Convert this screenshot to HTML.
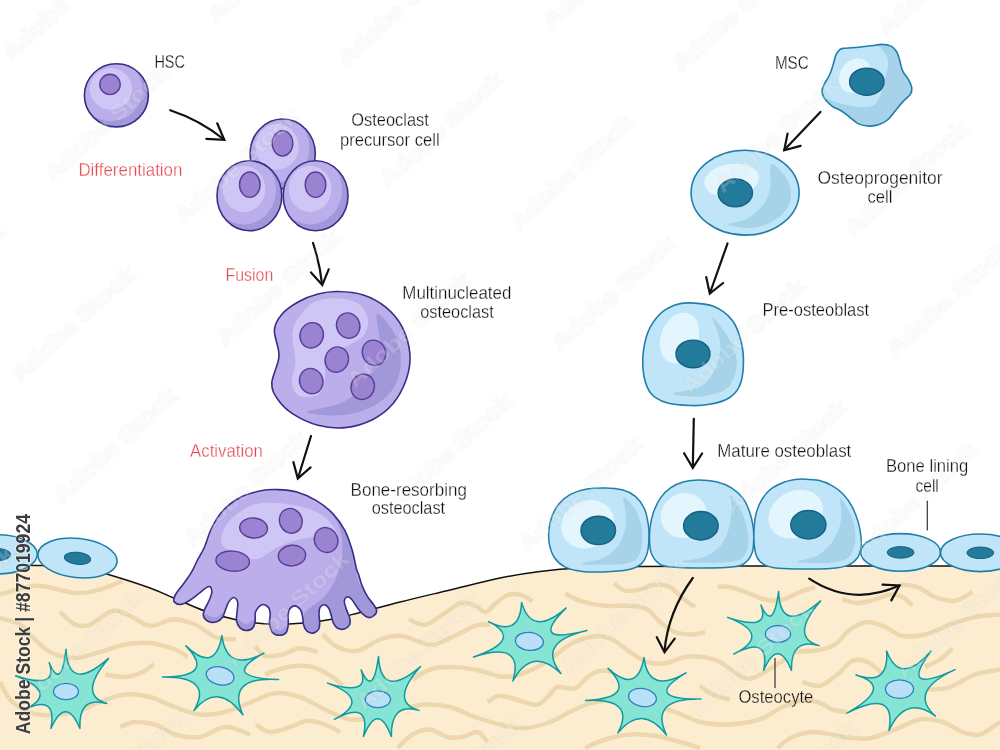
<!DOCTYPE html>
<html lang="en"><head><meta charset="utf-8"><title>Bone cell differentiation</title>
<style>html,body{margin:0;padding:0;background:#fff;overflow:hidden}svg{display:block;will-change:transform}</style></head>
<body>
<svg width="1000" height="750" viewBox="0 0 1000 750" font-family="'Liberation Sans', sans-serif">
<rect width="1000" height="750" fill="#ffffff"/>
<path d="M-5.0,565.3 C3.3,565.3 30.0,565.1 45.0,565.6 C60.0,566.1 74.2,566.9 85.0,568.5 C95.8,570.1 99.2,571.8 110.0,575.0 C120.8,578.2 139.2,584.1 150.0,588.0 C160.8,591.9 165.8,594.7 175.0,598.5 C184.2,602.3 194.7,607.4 205.0,611.0 C215.3,614.6 226.5,617.8 237.0,620.0 C247.5,622.2 256.8,623.5 268.0,624.0 C279.2,624.5 293.2,623.8 304.0,623.0 C314.8,622.2 323.7,620.8 333.0,619.0 C342.3,617.2 348.8,615.3 360.0,612.5 C371.2,609.7 385.0,605.8 400.0,602.0 C415.0,598.2 433.3,594.0 450.0,590.0 C466.7,586.0 485.0,581.1 500.0,578.0 C515.0,574.9 526.7,573.2 540.0,571.5 C553.3,569.8 563.3,568.8 580.0,568.0 C596.7,567.2 610.0,566.8 640.0,566.5 C670.0,566.2 716.7,566.1 760.0,566.0 C803.3,565.9 859.2,566.0 900.0,566.0 C940.8,566.0 987.5,566.0 1005.0,566.0 L1005,755 L-5,755 Z" fill="#fdedd0" stroke="none" stroke-width="0" stroke-linejoin="round" stroke-linecap="round" />
<g id="waves" fill="none" stroke="#ecd7af" stroke-width="4.5" stroke-linecap="butt">
<path d="M0.0,594.5 C6.2,593.0 25.0,586.0 37.5,585.8 C50.0,585.5 64.6,592.4 75.0,593.0 C85.4,593.6 92.1,591.5 100.0,589.5 C107.9,587.5 118.8,582.2 122.5,580.8"/>
<path d="M60.0,612.0 C62.5,614.1 70.0,622.4 75.0,624.5 C80.0,626.6 83.8,626.8 90.0,624.5 C96.2,622.2 105.8,612.2 112.5,610.8 C119.2,609.3 123.8,613.3 130.0,615.8 C136.2,618.3 142.9,625.2 150.0,625.8 C157.1,626.4 165.0,619.7 172.5,619.5 C180.0,619.3 187.9,621.6 195.0,624.5 C202.1,627.4 208.2,634.5 215.0,637.0 C221.8,639.5 232.5,639.1 236.0,639.5"/>
<path d="M0.0,618.0 C3.3,619.1 14.6,621.3 20.0,624.5 C25.4,627.7 27.5,632.4 32.5,637.0 C37.5,641.6 42.9,648.5 50.0,652.0 C57.1,655.5 66.7,658.0 75.0,658.0 C83.3,658.0 91.7,654.2 100.0,652.0 C108.3,649.8 116.7,646.0 125.0,644.5 C133.3,643.0 141.7,642.2 150.0,643.0 C158.3,643.8 168.8,647.2 175.0,649.5 C181.2,651.8 185.4,655.8 187.5,657.0"/>
<path d="M105.0,674.5 C108.3,674.9 118.8,677.4 125.0,677.0 C131.2,676.6 137.7,674.2 142.5,672.0 C147.3,669.8 151.9,665.3 153.8,664.0"/>
<path d="M120.0,727.0 C122.5,726.2 129.2,722.4 135.0,722.0 C140.8,721.6 148.3,722.4 155.0,724.5 C161.7,726.6 167.5,732.4 175.0,734.5 C182.5,736.6 191.7,738.2 200.0,737.0 C208.3,735.8 216.7,727.4 225.0,727.0 C233.3,726.6 245.8,733.2 250.0,734.5"/>
<path d="M408.8,619.2 C410.3,619.9 414.8,622.7 418.0,623.5 C421.2,624.3 423.5,625.8 428.0,624.0 C432.5,622.2 439.8,616.4 445.0,613.0 C450.2,609.6 455.4,605.2 459.2,603.6 C463.0,602.0 465.2,603.1 468.0,603.5 C470.8,603.9 473.1,604.6 476.0,606.0 C478.9,607.4 482.4,612.3 485.6,612.0 C488.8,611.7 491.8,606.6 495.0,604.0 C498.2,601.4 501.8,598.1 504.8,596.4 C507.8,594.7 510.2,594.2 513.0,594.0 C515.8,593.8 518.4,594.0 521.6,595.2 C524.8,596.4 530.6,600.2 532.4,601.2"/>
<path d="M322.5,634.5 C325.0,636.6 331.7,644.3 337.5,647.0 C343.3,649.7 350.4,652.0 357.5,650.8 C364.6,649.5 372.9,642.0 380.0,639.5 C387.1,637.0 393.3,635.4 400.0,635.8 C406.7,636.2 414.2,640.5 420.0,642.0 C425.8,643.5 428.8,645.8 435.0,644.5 C441.2,643.2 450.8,637.6 457.5,634.5 C464.2,631.4 469.6,627.5 475.0,625.8 C480.4,624.1 487.5,624.7 490.0,624.5"/>
<path d="M255.0,645.8 C256.7,647.5 260.4,654.3 265.0,655.8 C269.6,657.2 276.7,655.8 282.5,654.5 C288.3,653.2 294.2,648.7 300.0,648.3 C305.8,647.9 314.6,651.4 317.5,652.0"/>
<path d="M265.0,674.5 C268.8,673.2 279.6,668.2 287.5,667.0 C295.4,665.8 305.0,665.3 312.5,667.0 C320.0,668.7 327.5,673.9 332.5,677.0 C337.5,680.1 340.8,684.3 342.5,685.8"/>
<path d="M256.0,724.5 C258.3,725.8 264.3,731.6 270.0,732.0 C275.7,732.4 283.8,728.9 290.0,727.0 C296.2,725.1 301.7,721.2 307.5,720.8 C313.3,720.4 319.6,722.6 325.0,724.5 C330.4,726.4 337.5,730.8 340.0,732.0"/>
<path d="M397.5,748.0 C400.0,745.8 407.1,737.6 412.5,734.5 C417.9,731.4 424.2,729.1 430.0,729.5 C435.8,729.9 442.1,735.8 447.5,737.0 C452.9,738.2 457.5,737.8 462.5,737.0 C467.5,736.2 473.3,731.2 477.5,732.0 C481.7,732.8 485.8,740.3 487.5,742.0"/>
<path d="M613.8,583.3 C615.7,584.5 620.6,589.8 625.0,590.8 C629.4,591.8 635.0,590.5 640.0,589.5 C645.0,588.5 650.0,584.9 655.0,584.5 C660.0,584.1 665.4,584.7 670.0,587.0 C674.6,589.3 678.3,595.0 682.5,598.3 C686.7,601.6 692.9,605.5 695.0,607.0"/>
<path d="M565.0,593.3 C567.5,594.5 573.3,598.7 580.0,600.8 C586.7,602.9 596.7,605.0 605.0,605.8 C613.3,606.6 622.9,605.2 630.0,605.8 C637.1,606.4 642.5,606.8 647.5,609.5 C652.5,612.2 655.4,618.2 660.0,622.0 C664.6,625.8 669.6,629.9 675.0,632.0 C680.4,634.1 687.5,634.5 692.5,634.5 C697.5,634.5 702.9,632.4 705.0,632.0"/>
<path d="M585.0,748.0 C588.3,746.6 597.5,741.8 605.0,739.5 C612.5,737.2 621.7,735.1 630.0,734.5 C638.3,733.9 646.7,734.5 655.0,735.8 C663.3,737.0 672.5,740.0 680.0,742.0 C687.5,744.0 696.7,747.0 700.0,748.0"/>
<path d="M700.0,685.8 C702.1,687.2 707.5,692.2 712.5,694.5 C717.5,696.8 727.1,698.7 730.0,699.5"/>
<path d="M842.5,599.5 C845.0,600.1 852.1,603.0 857.5,603.0 C862.9,603.0 869.6,600.9 875.0,599.5 C880.4,598.1 885.4,594.9 890.0,594.5 C894.6,594.1 898.8,595.1 902.5,597.0 C906.2,598.9 910.8,604.3 912.5,605.8"/>
<path d="M900.0,584.5 C902.9,584.9 911.7,584.9 917.5,587.0 C923.3,589.1 928.8,594.7 935.0,597.0 C941.2,599.3 948.8,601.6 955.0,600.8 C961.2,600.0 969.6,593.5 972.5,592.0"/>
<path d="M802.5,682.0 C805.4,682.6 814.2,687.0 820.0,685.8 C825.8,684.5 832.1,678.7 837.5,674.5 C842.9,670.3 847.5,662.9 852.5,660.8 C857.5,658.7 862.5,659.9 867.5,662.0 C872.5,664.1 876.2,669.5 882.5,673.3 C888.8,677.1 896.7,682.3 905.0,685.0 C913.3,687.7 925.0,689.2 932.5,689.5 C940.0,689.8 942.9,689.5 950.0,687.0 C957.1,684.5 966.7,677.4 975.0,674.5 C983.3,671.6 995.8,670.3 1000.0,669.5"/>
<path d="M925.0,667.0 C927.5,665.8 935.4,662.6 940.0,659.5 C944.6,656.4 950.4,650.2 952.5,648.3"/>
<path d="M777.5,748.0 C780.0,746.2 786.2,739.7 792.5,737.0 C798.8,734.3 806.2,732.0 815.0,732.0 C823.8,732.0 835.8,736.0 845.0,737.0 C854.2,738.0 861.7,739.5 870.0,738.3 C878.3,737.0 886.7,732.6 895.0,729.5 C903.3,726.4 912.1,720.8 920.0,719.5 C927.9,718.2 935.4,719.9 942.5,722.0 C949.6,724.1 956.2,729.9 962.5,732.0 C968.8,734.1 973.8,736.2 980.0,734.5 C986.2,732.8 996.7,724.1 1000.0,722.0"/>
<path d="M487.5,702.0 C489.6,701.0 494.6,696.0 500.0,695.8 C505.4,695.5 513.8,699.3 520.0,700.8 C526.2,702.3 532.5,705.5 537.5,704.5 C542.5,703.5 546.7,697.4 550.0,694.5 C553.3,691.6 553.3,688.0 557.5,687.0 C561.7,686.0 570.0,690.0 575.0,688.3 C580.0,686.6 583.3,679.9 587.5,677.0 C591.7,674.1 595.8,671.6 600.0,670.8 C604.2,670.0 610.4,671.8 612.5,672.0"/>
<path d="M412.5,679.5 C415.4,677.8 423.8,671.6 430.0,669.5 C436.2,667.4 442.5,667.0 450.0,667.0 C457.5,667.0 466.7,667.9 475.0,669.5 C483.3,671.1 493.3,675.4 500.0,676.4 C506.7,677.4 509.6,676.9 515.0,675.8 C520.4,674.6 526.7,672.2 532.5,669.5 C538.3,666.8 543.8,663.7 550.0,659.5 C556.2,655.3 563.3,648.2 570.0,644.5 C576.7,640.8 583.3,638.0 590.0,637.0 C596.7,636.0 603.3,635.8 610.0,638.3 C616.7,640.8 623.8,648.0 630.0,652.0 C636.2,656.0 641.7,660.1 647.5,662.0 C653.3,663.9 658.8,664.1 665.0,663.3 C671.2,662.5 678.8,658.0 685.0,657.0 C691.2,656.0 696.7,656.2 702.5,657.0 C708.3,657.8 714.2,659.1 720.0,662.0 C725.8,664.9 732.5,671.7 737.5,674.5 C742.5,677.3 745.4,679.2 750.0,678.8 C754.6,678.3 759.6,675.0 765.0,672.0 C770.4,669.0 777.5,664.1 782.5,660.8 C787.5,657.5 789.6,653.7 795.0,652.0 C800.4,650.3 808.3,652.0 815.0,650.8 C821.7,649.5 829.2,648.0 835.0,644.5 C840.8,641.0 844.6,633.2 850.0,629.5 C855.4,625.8 861.7,622.4 867.5,622.0 C873.3,621.6 879.2,624.7 885.0,627.0 C890.8,629.3 895.8,634.5 902.5,635.8 C909.2,637.0 917.1,636.4 925.0,634.5 C932.9,632.6 941.7,627.4 950.0,624.5 C958.3,621.6 966.7,618.7 975.0,617.0 C983.3,615.3 995.8,614.9 1000.0,614.5"/>
<path d="M0.0,682.0 C2.1,685.3 6.2,696.6 12.5,702.0 C18.8,707.4 27.1,712.8 37.5,714.5 C47.9,716.2 64.6,714.1 75.0,712.0 C85.4,709.9 91.7,704.9 100.0,702.0 C108.3,699.1 116.7,695.3 125.0,694.5 C133.3,693.7 141.7,694.9 150.0,697.0 C158.3,699.1 166.7,704.1 175.0,707.0 C183.3,709.9 191.7,713.7 200.0,714.5 C208.3,715.3 216.7,714.0 225.0,712.0 C233.3,710.0 241.7,705.8 250.0,702.6 C258.3,699.5 266.7,694.2 275.0,693.3 C283.3,692.4 291.7,694.3 300.0,697.0 C308.3,699.7 316.7,705.8 325.0,709.5 C333.3,713.2 341.7,718.2 350.0,719.5 C358.3,720.8 366.7,718.7 375.0,717.0 C383.3,715.3 391.7,711.6 400.0,709.5 C408.3,707.4 416.7,704.9 425.0,704.5 C433.3,704.1 441.7,704.9 450.0,707.0 C458.3,709.1 466.7,714.1 475.0,717.0 C483.3,719.9 491.7,722.6 500.0,724.5 C508.3,726.4 516.7,728.7 525.0,728.3 C533.3,727.9 541.7,725.1 550.0,722.0 C558.3,718.9 567.5,712.8 575.0,709.5 C582.5,706.2 585.0,703.6 595.0,702.0 C605.0,700.4 621.7,698.3 635.0,700.0 C648.3,701.7 664.2,708.3 675.0,712.0 C685.8,715.7 691.7,719.9 700.0,722.0 C708.3,724.1 716.7,724.5 725.0,724.5 C733.3,724.5 743.3,723.2 750.0,722.0 C756.7,720.8 759.6,719.5 765.0,717.0 C770.4,714.5 776.7,709.7 782.5,707.0 C788.3,704.3 794.2,701.6 800.0,700.8 C805.8,700.0 812.1,700.5 817.5,702.0 C822.9,703.5 827.5,707.8 832.5,709.5 C837.5,711.2 845.0,711.6 847.5,712.0"/>
<path d="M717.5,587.0 C719.6,587.0 724.6,585.9 730.0,587.0 C735.4,588.1 744.2,591.7 750.0,593.8 C755.8,595.8 759.6,598.5 765.0,599.5 C770.4,600.5 776.7,600.8 782.5,599.5 C788.3,598.2 794.6,594.1 800.0,592.0 C805.4,589.9 812.5,587.8 815.0,587.0"/>
</g>
<path d="M-5.0,565.3 C3.3,565.3 30.0,565.1 45.0,565.6 C60.0,566.1 74.2,566.9 85.0,568.5 C95.8,570.1 99.2,571.8 110.0,575.0 C120.8,578.2 139.2,584.1 150.0,588.0 C160.8,591.9 165.8,594.7 175.0,598.5 C184.2,602.3 194.7,607.4 205.0,611.0 C215.3,614.6 226.5,617.8 237.0,620.0 C247.5,622.2 256.8,623.5 268.0,624.0 C279.2,624.5 293.2,623.8 304.0,623.0 C314.8,622.2 323.7,620.8 333.0,619.0 C342.3,617.2 348.8,615.3 360.0,612.5 C371.2,609.7 385.0,605.8 400.0,602.0 C415.0,598.2 433.3,594.0 450.0,590.0 C466.7,586.0 485.0,581.1 500.0,578.0 C515.0,574.9 526.7,573.2 540.0,571.5 C553.3,569.8 563.3,568.8 580.0,568.0 C596.7,567.2 610.0,566.8 640.0,566.5 C670.0,566.2 716.7,566.1 760.0,566.0 C803.3,565.9 859.2,566.0 900.0,566.0 C940.8,566.0 987.5,566.0 1005.0,566.0" fill="none" stroke="#111" stroke-width="1.5" stroke-linejoin="round" stroke-linecap="round" />
<path d="M66.0,649.3 Q68.2,693.9 108.5,658.4 Q77.4,695.1 106.8,703.5 Q78.5,695.3 79.9,728.5 Q65.9,695.0 50.9,728.5 Q57.4,692.9 24.0,710.0 Q59.9,693.0 15.6,675.7 Q58.8,690.0 49.2,662.7 Q61.3,691.1 66.0,649.3Z" fill="#86e4d4" stroke="#0f9ba0" stroke-width="1.5" stroke-linejoin="round"/>
<ellipse cx="66" cy="691.5" rx="12.5" ry="8.2" fill="#b9e0f6" stroke="#2c7fc0" stroke-width="1.3" />
<path d="M221.9,635.4 Q226.6,673.1 263.9,653.1 Q218.7,677.7 278.6,679.5 Q225.6,676.1 242.9,714.9 Q218.3,681.2 194.0,710.4 Q213.8,676.6 162.5,677.1 Q216.4,676.9 185.9,645.9 Q215.2,674.2 221.9,635.4Z" fill="#86e4d4" stroke="#0f9ba0" stroke-width="1.5" stroke-linejoin="round"/>
<ellipse cx="220.1" cy="675.9" rx="14" ry="9" transform="rotate(12 220.1 675.9)" fill="#b9e0f6" stroke="#2c7fc0" stroke-width="1.3" />
<path d="M378.5,656.4 Q380.7,700.4 420.5,666.6 Q389.2,701.9 419.0,710.4 Q390.5,702.2 391.4,736.5 Q377.9,700.8 363.5,736.5 Q371.1,699.0 334.4,719.4 Q372.6,699.4 327.5,683.1 Q370.7,696.9 361.1,669.9 Q373.2,697.8 378.5,656.4Z" fill="#86e4d4" stroke="#0f9ba0" stroke-width="1.5" stroke-linejoin="round"/>
<ellipse cx="377.9" cy="699.3" rx="12.6" ry="8.4" fill="#b9e0f6" stroke="#2c7fc0" stroke-width="1.3" />
<path d="M521.6,602.4 Q531.8,637.9 566.0,608.1 Q527.5,645.9 587.0,630.6 Q535.8,642.3 560.9,673.5 Q532.0,645.7 512.9,681.0 Q524.8,640.1 473.6,657.0 Q524.6,639.4 488.6,621.6 Q519.9,637.9 521.6,602.4Z" fill="#86e4d4" stroke="#0f9ba0" stroke-width="1.5" stroke-linejoin="round"/>
<ellipse cx="529.4" cy="641.4" rx="14" ry="9" transform="rotate(5 529.4 641.4)" fill="#b9e0f6" stroke="#2c7fc0" stroke-width="1.3" />
<path d="M644.0,657.6 Q648.4,694.7 686.0,672.9 Q641.1,699.8 701.0,699.0 Q648.6,698.0 666.5,735.0 Q641.7,702.9 617.9,732.9 Q636.3,697.9 585.5,700.5 Q638.3,698.0 608.0,668.4 Q637.2,695.1 644.0,657.6Z" fill="#86e4d4" stroke="#0f9ba0" stroke-width="1.5" stroke-linejoin="round"/>
<ellipse cx="642.5" cy="697.5" rx="14" ry="9" transform="rotate(10 642.5 697.5)" fill="#b9e0f6" stroke="#2c7fc0" stroke-width="1.3" />
<path d="M778.6,591.6 Q780.4,635.7 820.6,600.9 Q789.2,637.0 819.1,645.6 Q790.4,637.5 791.5,670.5 Q777.9,636.9 763.6,670.5 Q770.9,634.4 733.9,654.0 Q772.7,634.4 727.6,617.4 Q770.9,632.1 760.9,605.1 Q773.1,632.6 778.6,591.6Z" fill="#86e4d4" stroke="#0f9ba0" stroke-width="1.5" stroke-linejoin="round"/>
<ellipse cx="778" cy="633.9" rx="12.6" ry="8.4" fill="#b9e0f6" stroke="#2c7fc0" stroke-width="1.3" />
<path d="M886.6,651.0 Q900.1,686.7 931.0,651.0 Q897.9,695.8 955.0,669.6 Q907.5,691.4 935.5,716.1 Q905.3,694.2 889.0,730.5 Q896.6,687.2 847.0,713.1 Q895.0,686.3 856.0,675.0 Q889.2,686.6 886.6,651.0Z" fill="#86e4d4" stroke="#0f9ba0" stroke-width="1.5" stroke-linejoin="round"/>
<ellipse cx="899.5" cy="689.1" rx="14" ry="9.3" fill="#b9e0f6" stroke="#2c7fc0" stroke-width="1.3" />
<clipPath id="c1"><ellipse cx="116.4" cy="95.3" rx="32" ry="31.6"/></clipPath>
<ellipse cx="116.4" cy="95.3" rx="32" ry="31.6" fill="#bbaeea"/>
<g clip-path="url(#c1)">
<ellipse cx="116.4" cy="95.3" rx="32" ry="31.6" fill="#a198da"/>
<ellipse cx="110.96" cy="89.928" rx="31.68" ry="31.284" fill="#bbaeea" stroke="none" stroke-width="0" />
<ellipse cx="110.96" cy="88.98" rx="21.12" ry="20.856" fill="#cec7f5" stroke="none" stroke-width="0" />
</g>
<ellipse cx="116.4" cy="95.3" rx="32" ry="31.6" fill="none" stroke="#372f85" stroke-width="1.6"/>
<ellipse cx="110" cy="84.4" rx="10.2" ry="10.2" fill="#9a83d1" stroke="#5b3d97" stroke-width="1.4" />
<clipPath id="c2"><ellipse cx="282.7" cy="153.8" rx="32.6" ry="34.8"/></clipPath>
<ellipse cx="282.7" cy="153.8" rx="32.6" ry="34.8" fill="#bbaeea"/>
<g clip-path="url(#c2)">
<ellipse cx="282.7" cy="153.8" rx="32.6" ry="34.8" fill="#a198da"/>
<ellipse cx="277.158" cy="147.884" rx="32.274" ry="34.452" fill="#bbaeea" stroke="none" stroke-width="0" />
<ellipse cx="277.158" cy="146.84" rx="21.516" ry="22.968" fill="#cec7f5" stroke="none" stroke-width="0" />
</g>
<ellipse cx="282.7" cy="153.8" rx="32.6" ry="34.8" fill="none" stroke="#372f85" stroke-width="1.6"/>
<ellipse cx="282.5" cy="143.3" rx="10.3" ry="12.7" fill="#9a83d1" stroke="#5b3d97" stroke-width="1.4" />
<clipPath id="c3"><ellipse cx="249.4" cy="195.8" rx="32.4" ry="35"/></clipPath>
<ellipse cx="249.4" cy="195.8" rx="32.4" ry="35" fill="#bbaeea"/>
<g clip-path="url(#c3)">
<ellipse cx="249.4" cy="195.8" rx="32.4" ry="35" fill="#a198da"/>
<ellipse cx="243.892" cy="189.85" rx="32.076" ry="34.65" fill="#bbaeea" stroke="none" stroke-width="0" />
<ellipse cx="243.892" cy="188.8" rx="21.384" ry="23.1" fill="#cec7f5" stroke="none" stroke-width="0" />
</g>
<ellipse cx="249.4" cy="195.8" rx="32.4" ry="35" fill="none" stroke="#372f85" stroke-width="1.6"/>
<ellipse cx="249.8" cy="184.7" rx="10.3" ry="12.7" fill="#9a83d1" stroke="#5b3d97" stroke-width="1.4" />
<clipPath id="c4"><ellipse cx="315.6" cy="195.8" rx="32.4" ry="35"/></clipPath>
<ellipse cx="315.6" cy="195.8" rx="32.4" ry="35" fill="#bbaeea"/>
<g clip-path="url(#c4)">
<ellipse cx="315.6" cy="195.8" rx="32.4" ry="35" fill="#a198da"/>
<ellipse cx="310.092" cy="189.85" rx="32.076" ry="34.65" fill="#bbaeea" stroke="none" stroke-width="0" />
<ellipse cx="310.092" cy="188.8" rx="21.384" ry="23.1" fill="#cec7f5" stroke="none" stroke-width="0" />
</g>
<ellipse cx="315.6" cy="195.8" rx="32.4" ry="35" fill="none" stroke="#372f85" stroke-width="1.6"/>
<ellipse cx="315.5" cy="184.7" rx="10.3" ry="12.7" fill="#9a83d1" stroke="#5b3d97" stroke-width="1.4" />
<clipPath id="c5"><path d="M338.0,291.5 C345.6,291.7 355.4,292.4 363.4,295.0 C371.4,297.6 379.6,302.1 386.0,307.4 C392.4,312.7 398.0,318.9 402.0,326.7 C406.0,334.4 409.1,345.2 409.9,353.9 C410.6,362.6 409.3,370.5 406.5,378.8 C403.7,387.1 398.6,397.0 392.9,403.8 C387.2,410.6 380.3,415.7 372.4,419.7 C364.4,423.7 354.3,426.7 345.2,427.6 C336.1,428.5 326.7,427.6 318.0,425.3 C309.3,423.0 299.6,418.3 292.8,413.9 C286.1,409.5 281.0,404.1 277.5,399.0 C274.0,393.9 271.6,390.2 271.8,383.0 C272.1,375.8 278.6,364.8 279.0,356.0 C279.4,347.2 273.9,336.9 274.4,330.0 C274.8,323.1 277.7,319.1 281.7,314.4 C285.7,309.7 292.4,305.1 298.5,301.7 C304.6,298.3 311.4,295.7 318.0,294.0 C324.6,292.3 330.4,291.3 338.0,291.5Z" fill="none" stroke="none" stroke-width="0" stroke-linejoin="round" stroke-linecap="round" /></clipPath>
<path d="M338.0,291.5 C345.6,291.7 355.4,292.4 363.4,295.0 C371.4,297.6 379.6,302.1 386.0,307.4 C392.4,312.7 398.0,318.9 402.0,326.7 C406.0,334.4 409.1,345.2 409.9,353.9 C410.6,362.6 409.3,370.5 406.5,378.8 C403.7,387.1 398.6,397.0 392.9,403.8 C387.2,410.6 380.3,415.7 372.4,419.7 C364.4,423.7 354.3,426.7 345.2,427.6 C336.1,428.5 326.7,427.6 318.0,425.3 C309.3,423.0 299.6,418.3 292.8,413.9 C286.1,409.5 281.0,404.1 277.5,399.0 C274.0,393.9 271.6,390.2 271.8,383.0 C272.1,375.8 278.6,364.8 279.0,356.0 C279.4,347.2 273.9,336.9 274.4,330.0 C274.8,323.1 277.7,319.1 281.7,314.4 C285.7,309.7 292.4,305.1 298.5,301.7 C304.6,298.3 311.4,295.7 318.0,294.0 C324.6,292.3 330.4,291.3 338.0,291.5Z" fill="#bbaeea" stroke="none" stroke-width="0" stroke-linejoin="round" stroke-linecap="round" />
<g clip-path="url(#c5)">
<path d="M377.0,314.2 C379.3,312.0 389.4,324.6 393.3,331.2 C397.2,337.8 399.7,346.3 400.6,353.9 C401.4,361.5 400.8,369.6 398.5,376.6 C396.3,383.6 392.9,390.3 387.2,395.9 C381.5,401.4 373.0,406.8 364.5,410.1 C356.0,413.4 345.8,415.3 336.2,415.6 C326.5,415.8 306.3,413.6 306.7,411.7 C307.1,409.8 329.9,407.6 338.4,404.2 C346.9,400.8 352.2,396.9 357.7,391.3 C363.2,385.8 367.6,378.7 371.3,370.9 C375.0,363.2 378.8,354.3 379.7,344.8 C380.7,335.4 374.7,316.5 377.0,314.2Z" fill="#a198da" stroke="none" stroke-width="0" stroke-linejoin="round" stroke-linecap="round" />
<path d="M293.1,329.0 C295.7,319.5 304.0,309.1 311.2,304.0 C318.4,298.9 328.2,298.3 336.2,298.3 C344.1,298.3 353.6,300.4 358.8,304.0 C364.1,307.6 367.2,314.6 367.9,319.9 C368.7,325.2 366.8,331.4 363.4,335.8 C360.0,340.1 353.6,342.2 347.5,346.0 C341.5,349.7 330.9,353.0 327.1,358.4 C323.3,363.9 326.3,372.8 324.8,378.8 C323.3,384.9 322.2,391.9 318.0,394.7 C313.9,397.6 304.2,397.7 299.9,395.9 C295.5,394.0 292.7,389.2 292.0,383.4 C291.2,377.5 295.2,369.8 295.4,360.7 C295.5,351.6 290.4,338.4 293.1,329.0Z" fill="#cec7f5" stroke="none" stroke-width="0" stroke-linejoin="round" stroke-linecap="round" />
</g>
<path d="M338.0,291.5 C345.6,291.7 355.4,292.4 363.4,295.0 C371.4,297.6 379.6,302.1 386.0,307.4 C392.4,312.7 398.0,318.9 402.0,326.7 C406.0,334.4 409.1,345.2 409.9,353.9 C410.6,362.6 409.3,370.5 406.5,378.8 C403.7,387.1 398.6,397.0 392.9,403.8 C387.2,410.6 380.3,415.7 372.4,419.7 C364.4,423.7 354.3,426.7 345.2,427.6 C336.1,428.5 326.7,427.6 318.0,425.3 C309.3,423.0 299.6,418.3 292.8,413.9 C286.1,409.5 281.0,404.1 277.5,399.0 C274.0,393.9 271.6,390.2 271.8,383.0 C272.1,375.8 278.6,364.8 279.0,356.0 C279.4,347.2 273.9,336.9 274.4,330.0 C274.8,323.1 277.7,319.1 281.7,314.4 C285.7,309.7 292.4,305.1 298.5,301.7 C304.6,298.3 311.4,295.7 318.0,294.0 C324.6,292.3 330.4,291.3 338.0,291.5Z" fill="none" stroke="#372f85" stroke-width="1.6" stroke-linejoin="round" stroke-linecap="round" />
<ellipse cx="311.7" cy="335.3" rx="11.6" ry="12.8" transform="rotate(20 311.7 335.3)" fill="#9a83d1" stroke="#5b3d97" stroke-width="1.4" />
<ellipse cx="348.2" cy="325.6" rx="11.6" ry="12.8" transform="rotate(-20 348.2 325.6)" fill="#9a83d1" stroke="#5b3d97" stroke-width="1.4" />
<ellipse cx="336.8" cy="359.6" rx="11.6" ry="12.8" transform="rotate(20 336.8 359.6)" fill="#9a83d1" stroke="#5b3d97" stroke-width="1.4" />
<ellipse cx="374" cy="352.8" rx="11.6" ry="12.8" transform="rotate(-25 374 352.8)" fill="#9a83d1" stroke="#5b3d97" stroke-width="1.4" />
<ellipse cx="311.2" cy="381.1" rx="11.6" ry="12.8" transform="rotate(-20 311.2 381.1)" fill="#9a83d1" stroke="#5b3d97" stroke-width="1.4" />
<ellipse cx="362.7" cy="386.8" rx="11.6" ry="12.8" transform="rotate(20 362.7 386.8)" fill="#9a83d1" stroke="#5b3d97" stroke-width="1.4" />
<clipPath id="c6"><path d="M197.5,560.0 C199.7,555.8 202.1,552.5 204.4,547.2 C206.8,541.9 208.6,534.0 211.6,528.0 C214.6,522.0 217.8,516.2 222.4,511.2 C227.0,506.2 232.8,501.4 239.2,498.0 C245.6,494.6 254.4,492.2 260.8,490.8 C267.2,489.4 271.6,489.4 277.6,489.6 C283.6,489.8 290.4,490.2 296.8,492.0 C303.2,493.8 310.0,496.8 316.0,500.4 C322.0,504.0 328.0,508.6 332.8,513.6 C337.6,518.6 341.6,524.4 344.8,530.4 C348.0,536.4 350.0,543.1 352.0,549.6 C354.0,556.1 355.5,565.3 356.6,569.4 C357.7,573.5 357.7,571.7 358.6,574.4 C359.5,577.1 360.5,581.7 361.9,585.4 C363.4,589.1 365.4,593.1 367.4,596.4 C369.4,599.7 372.5,602.7 374.0,605.2 C375.6,607.7 376.7,609.4 376.7,611.1 C376.7,612.9 375.4,614.5 374.0,615.5 C372.7,616.6 370.5,617.9 368.5,617.5 C366.5,617.1 363.9,615.0 361.9,613.1 C359.9,611.3 358.1,608.5 356.4,606.3 C354.8,604.1 353.5,601.3 352.0,599.7 C350.6,598.1 348.9,596.7 347.6,596.8 C346.3,597.0 344.5,598.7 344.3,600.8 C344.1,602.9 345.6,606.7 346.5,609.6 C347.4,612.5 349.3,615.8 349.8,618.4 C350.3,621.0 350.3,623.2 349.4,625.0 C348.5,626.8 346.3,628.4 344.3,629.0 C342.4,629.5 339.6,629.3 337.7,628.3 C335.9,627.3 334.4,625.0 333.3,622.8 C332.2,620.6 331.9,617.5 331.1,615.1 C330.4,612.7 330.0,610.2 328.9,608.5 C327.8,606.8 326.0,604.9 324.5,604.8 C323.0,604.6 321.0,605.9 320.1,607.4 C319.2,608.9 319.1,611.4 319.0,614.0 C318.9,616.6 319.7,620.2 319.7,622.8 C319.6,625.4 319.7,627.7 318.6,629.4 C317.4,631.1 314.8,632.9 312.9,633.1 C310.9,633.4 308.5,632.5 306.9,631.2 C305.4,629.8 304.3,627.5 303.6,625.0 C302.9,622.5 303.1,618.8 302.5,616.2 C302.0,613.6 301.6,611.3 300.3,609.6 C299.0,607.9 296.6,605.9 294.8,605.9 C293.0,605.9 290.4,607.9 289.3,609.6 C288.2,611.3 288.4,613.6 288.2,616.2 C288.0,618.8 288.6,622.3 288.2,625.0 C287.8,627.8 287.5,631.0 286.0,632.7 C284.5,634.4 281.6,635.3 279.4,635.3 C277.2,635.3 274.5,634.6 272.8,632.7 C271.2,630.8 270.0,627.0 269.5,623.9 C269.1,620.8 270.4,616.8 270.2,614.0 C270.0,611.3 269.8,608.9 268.4,607.4 C267.0,605.9 263.9,604.0 261.8,604.8 C259.7,605.5 256.7,609.2 255.6,611.8 C254.5,614.4 255.6,618.0 255.2,620.6 C254.8,623.2 254.5,626.0 253.0,627.6 C251.5,629.3 248.6,630.5 246.4,630.5 C244.2,630.5 241.5,629.3 239.8,627.6 C238.2,626.0 236.9,623.4 236.5,620.6 C236.1,617.8 237.0,613.8 237.2,610.7 C237.4,607.6 238.2,604.1 237.6,601.9 C237.0,599.7 235.1,597.5 233.6,597.5 C232.2,597.5 230.2,599.9 228.8,601.9 C227.4,603.9 226.5,607.0 225.5,609.6 C224.5,612.2 224.1,615.3 222.6,617.3 C221.2,619.3 219.0,621.0 216.7,621.7 C214.4,622.4 211.2,622.6 209.0,621.7 C206.8,620.8 204.2,618.2 203.5,616.2 C202.8,614.2 203.7,612.2 204.6,609.6 C205.5,607.0 207.8,603.7 209.0,600.8 C210.2,597.9 211.7,594.3 211.9,592.0 C212.0,589.7 211.0,587.5 210.1,586.7 C209.2,586.0 208.4,586.4 206.4,587.6 C204.3,588.8 200.9,592.0 198.0,594.2 C195.1,596.4 192.1,599.1 189.2,600.8 C186.3,602.5 182.9,604.4 180.4,604.5 C177.9,604.7 175.3,603.1 174.2,601.9 C173.2,600.7 173.8,599.2 174.2,597.5 C174.7,595.9 175.5,594.4 177.1,592.0 C178.7,589.6 181.5,586.5 183.9,583.2 C186.3,579.9 189.1,576.3 191.4,572.4 C193.7,568.6 195.3,564.2 197.5,560.0Z" fill="none" stroke="none" stroke-width="0" stroke-linejoin="round" stroke-linecap="round" /></clipPath>
<path d="M197.5,560.0 C199.7,555.8 202.1,552.5 204.4,547.2 C206.8,541.9 208.6,534.0 211.6,528.0 C214.6,522.0 217.8,516.2 222.4,511.2 C227.0,506.2 232.8,501.4 239.2,498.0 C245.6,494.6 254.4,492.2 260.8,490.8 C267.2,489.4 271.6,489.4 277.6,489.6 C283.6,489.8 290.4,490.2 296.8,492.0 C303.2,493.8 310.0,496.8 316.0,500.4 C322.0,504.0 328.0,508.6 332.8,513.6 C337.6,518.6 341.6,524.4 344.8,530.4 C348.0,536.4 350.0,543.1 352.0,549.6 C354.0,556.1 355.5,565.3 356.6,569.4 C357.7,573.5 357.7,571.7 358.6,574.4 C359.5,577.1 360.5,581.7 361.9,585.4 C363.4,589.1 365.4,593.1 367.4,596.4 C369.4,599.7 372.5,602.7 374.0,605.2 C375.6,607.7 376.7,609.4 376.7,611.1 C376.7,612.9 375.4,614.5 374.0,615.5 C372.7,616.6 370.5,617.9 368.5,617.5 C366.5,617.1 363.9,615.0 361.9,613.1 C359.9,611.3 358.1,608.5 356.4,606.3 C354.8,604.1 353.5,601.3 352.0,599.7 C350.6,598.1 348.9,596.7 347.6,596.8 C346.3,597.0 344.5,598.7 344.3,600.8 C344.1,602.9 345.6,606.7 346.5,609.6 C347.4,612.5 349.3,615.8 349.8,618.4 C350.3,621.0 350.3,623.2 349.4,625.0 C348.5,626.8 346.3,628.4 344.3,629.0 C342.4,629.5 339.6,629.3 337.7,628.3 C335.9,627.3 334.4,625.0 333.3,622.8 C332.2,620.6 331.9,617.5 331.1,615.1 C330.4,612.7 330.0,610.2 328.9,608.5 C327.8,606.8 326.0,604.9 324.5,604.8 C323.0,604.6 321.0,605.9 320.1,607.4 C319.2,608.9 319.1,611.4 319.0,614.0 C318.9,616.6 319.7,620.2 319.7,622.8 C319.6,625.4 319.7,627.7 318.6,629.4 C317.4,631.1 314.8,632.9 312.9,633.1 C310.9,633.4 308.5,632.5 306.9,631.2 C305.4,629.8 304.3,627.5 303.6,625.0 C302.9,622.5 303.1,618.8 302.5,616.2 C302.0,613.6 301.6,611.3 300.3,609.6 C299.0,607.9 296.6,605.9 294.8,605.9 C293.0,605.9 290.4,607.9 289.3,609.6 C288.2,611.3 288.4,613.6 288.2,616.2 C288.0,618.8 288.6,622.3 288.2,625.0 C287.8,627.8 287.5,631.0 286.0,632.7 C284.5,634.4 281.6,635.3 279.4,635.3 C277.2,635.3 274.5,634.6 272.8,632.7 C271.2,630.8 270.0,627.0 269.5,623.9 C269.1,620.8 270.4,616.8 270.2,614.0 C270.0,611.3 269.8,608.9 268.4,607.4 C267.0,605.9 263.9,604.0 261.8,604.8 C259.7,605.5 256.7,609.2 255.6,611.8 C254.5,614.4 255.6,618.0 255.2,620.6 C254.8,623.2 254.5,626.0 253.0,627.6 C251.5,629.3 248.6,630.5 246.4,630.5 C244.2,630.5 241.5,629.3 239.8,627.6 C238.2,626.0 236.9,623.4 236.5,620.6 C236.1,617.8 237.0,613.8 237.2,610.7 C237.4,607.6 238.2,604.1 237.6,601.9 C237.0,599.7 235.1,597.5 233.6,597.5 C232.2,597.5 230.2,599.9 228.8,601.9 C227.4,603.9 226.5,607.0 225.5,609.6 C224.5,612.2 224.1,615.3 222.6,617.3 C221.2,619.3 219.0,621.0 216.7,621.7 C214.4,622.4 211.2,622.6 209.0,621.7 C206.8,620.8 204.2,618.2 203.5,616.2 C202.8,614.2 203.7,612.2 204.6,609.6 C205.5,607.0 207.8,603.7 209.0,600.8 C210.2,597.9 211.7,594.3 211.9,592.0 C212.0,589.7 211.0,587.5 210.1,586.7 C209.2,586.0 208.4,586.4 206.4,587.6 C204.3,588.8 200.9,592.0 198.0,594.2 C195.1,596.4 192.1,599.1 189.2,600.8 C186.3,602.5 182.9,604.4 180.4,604.5 C177.9,604.7 175.3,603.1 174.2,601.9 C173.2,600.7 173.8,599.2 174.2,597.5 C174.7,595.9 175.5,594.4 177.1,592.0 C178.7,589.6 181.5,586.5 183.9,583.2 C186.3,579.9 189.1,576.3 191.4,572.4 C193.7,568.6 195.3,564.2 197.5,560.0Z" fill="#bbaeea" stroke="none" stroke-width="0" stroke-linejoin="round" stroke-linecap="round" />
<g clip-path="url(#c6)">
<path d="M328.0,508.8 C329.6,510.8 342.8,526.8 347.2,535.2 C351.6,543.6 352.4,551.2 354.4,559.2 C356.4,567.2 355.6,575.6 359.2,583.2 C362.8,590.8 373.2,598.0 376.0,604.8 C378.8,611.6 384.0,618.4 376.0,624.0 C368.0,629.6 340.4,636.0 328.0,638.4 C315.6,640.8 305.6,642.4 301.6,638.4 C297.6,634.4 300.0,621.6 304.0,614.4 C308.0,607.2 319.8,602.4 325.6,595.2 C331.4,588.0 336.0,580.0 338.8,571.2 C341.6,562.4 342.6,550.4 342.4,542.4 C342.2,534.4 340.0,528.8 337.6,523.2 C335.2,517.6 326.4,506.8 328.0,508.8Z" fill="#a198da" stroke="none" stroke-width="0" stroke-linejoin="round" stroke-linecap="round" />
<path d="M202.4,614.0 C204.2,612.7 211.9,617.7 215.6,617.3 C219.3,616.9 222.6,610.9 224.4,611.8 C226.2,612.7 229.9,620.6 226.6,622.8 C223.3,625.0 208.6,626.5 204.6,625.0 C200.6,623.5 200.6,615.3 202.4,614.0Z" fill="#a198da" stroke="none" stroke-width="0" stroke-linejoin="round" stroke-linecap="round" />
<path d="M236.5,619.5 C238.3,617.9 243.2,623.9 246.4,623.9 C249.6,623.9 253.8,617.9 255.6,619.5 C257.5,621.2 260.8,631.4 257.4,633.8 C254.0,636.2 238.9,636.2 235.4,633.8 C231.9,631.4 234.7,621.2 236.5,619.5Z" fill="#a198da" stroke="none" stroke-width="0" stroke-linejoin="round" stroke-linecap="round" />
<path d="M270.2,626.1 C272.0,624.8 276.4,630.5 279.4,630.5 C282.4,630.5 286.4,624.8 288.2,626.1 C290.0,627.4 293.7,636.2 290.4,638.2 C287.1,640.2 271.8,640.2 268.4,638.2 C265.0,636.2 268.3,627.4 270.2,626.1Z" fill="#a198da" stroke="none" stroke-width="0" stroke-linejoin="round" stroke-linecap="round" />
<path d="M221.2,541.2 C220.8,536.0 223.8,527.0 229.6,520.8 C235.4,514.6 245.2,506.6 256.0,504.0 C266.8,501.4 283.2,503.2 294.4,505.2 C305.6,507.2 316.0,510.6 323.2,516.0 C330.4,521.4 340.0,534.0 337.6,537.6 C335.2,541.2 318.4,536.2 308.8,537.6 C299.2,539.0 288.8,542.4 280.0,546.0 C271.2,549.6 264.0,558.2 256.0,559.2 C248.0,560.2 237.8,555.0 232.0,552.0 C226.2,549.0 221.6,546.4 221.2,541.2Z" fill="#cec7f5" stroke="none" stroke-width="0" stroke-linejoin="round" stroke-linecap="round" />
</g>
<path d="M197.5,560.0 C199.7,555.8 202.1,552.5 204.4,547.2 C206.8,541.9 208.6,534.0 211.6,528.0 C214.6,522.0 217.8,516.2 222.4,511.2 C227.0,506.2 232.8,501.4 239.2,498.0 C245.6,494.6 254.4,492.2 260.8,490.8 C267.2,489.4 271.6,489.4 277.6,489.6 C283.6,489.8 290.4,490.2 296.8,492.0 C303.2,493.8 310.0,496.8 316.0,500.4 C322.0,504.0 328.0,508.6 332.8,513.6 C337.6,518.6 341.6,524.4 344.8,530.4 C348.0,536.4 350.0,543.1 352.0,549.6 C354.0,556.1 355.5,565.3 356.6,569.4 C357.7,573.5 357.7,571.7 358.6,574.4 C359.5,577.1 360.5,581.7 361.9,585.4 C363.4,589.1 365.4,593.1 367.4,596.4 C369.4,599.7 372.5,602.7 374.0,605.2 C375.6,607.7 376.7,609.4 376.7,611.1 C376.7,612.9 375.4,614.5 374.0,615.5 C372.7,616.6 370.5,617.9 368.5,617.5 C366.5,617.1 363.9,615.0 361.9,613.1 C359.9,611.3 358.1,608.5 356.4,606.3 C354.8,604.1 353.5,601.3 352.0,599.7 C350.6,598.1 348.9,596.7 347.6,596.8 C346.3,597.0 344.5,598.7 344.3,600.8 C344.1,602.9 345.6,606.7 346.5,609.6 C347.4,612.5 349.3,615.8 349.8,618.4 C350.3,621.0 350.3,623.2 349.4,625.0 C348.5,626.8 346.3,628.4 344.3,629.0 C342.4,629.5 339.6,629.3 337.7,628.3 C335.9,627.3 334.4,625.0 333.3,622.8 C332.2,620.6 331.9,617.5 331.1,615.1 C330.4,612.7 330.0,610.2 328.9,608.5 C327.8,606.8 326.0,604.9 324.5,604.8 C323.0,604.6 321.0,605.9 320.1,607.4 C319.2,608.9 319.1,611.4 319.0,614.0 C318.9,616.6 319.7,620.2 319.7,622.8 C319.6,625.4 319.7,627.7 318.6,629.4 C317.4,631.1 314.8,632.9 312.9,633.1 C310.9,633.4 308.5,632.5 306.9,631.2 C305.4,629.8 304.3,627.5 303.6,625.0 C302.9,622.5 303.1,618.8 302.5,616.2 C302.0,613.6 301.6,611.3 300.3,609.6 C299.0,607.9 296.6,605.9 294.8,605.9 C293.0,605.9 290.4,607.9 289.3,609.6 C288.2,611.3 288.4,613.6 288.2,616.2 C288.0,618.8 288.6,622.3 288.2,625.0 C287.8,627.8 287.5,631.0 286.0,632.7 C284.5,634.4 281.6,635.3 279.4,635.3 C277.2,635.3 274.5,634.6 272.8,632.7 C271.2,630.8 270.0,627.0 269.5,623.9 C269.1,620.8 270.4,616.8 270.2,614.0 C270.0,611.3 269.8,608.9 268.4,607.4 C267.0,605.9 263.9,604.0 261.8,604.8 C259.7,605.5 256.7,609.2 255.6,611.8 C254.5,614.4 255.6,618.0 255.2,620.6 C254.8,623.2 254.5,626.0 253.0,627.6 C251.5,629.3 248.6,630.5 246.4,630.5 C244.2,630.5 241.5,629.3 239.8,627.6 C238.2,626.0 236.9,623.4 236.5,620.6 C236.1,617.8 237.0,613.8 237.2,610.7 C237.4,607.6 238.2,604.1 237.6,601.9 C237.0,599.7 235.1,597.5 233.6,597.5 C232.2,597.5 230.2,599.9 228.8,601.9 C227.4,603.9 226.5,607.0 225.5,609.6 C224.5,612.2 224.1,615.3 222.6,617.3 C221.2,619.3 219.0,621.0 216.7,621.7 C214.4,622.4 211.2,622.6 209.0,621.7 C206.8,620.8 204.2,618.2 203.5,616.2 C202.8,614.2 203.7,612.2 204.6,609.6 C205.5,607.0 207.8,603.7 209.0,600.8 C210.2,597.9 211.7,594.3 211.9,592.0 C212.0,589.7 211.0,587.5 210.1,586.7 C209.2,586.0 208.4,586.4 206.4,587.6 C204.3,588.8 200.9,592.0 198.0,594.2 C195.1,596.4 192.1,599.1 189.2,600.8 C186.3,602.5 182.9,604.4 180.4,604.5 C177.9,604.7 175.3,603.1 174.2,601.9 C173.2,600.7 173.8,599.2 174.2,597.5 C174.7,595.9 175.5,594.4 177.1,592.0 C178.7,589.6 181.5,586.5 183.9,583.2 C186.3,579.9 189.1,576.3 191.4,572.4 C193.7,568.6 195.3,564.2 197.5,560.0Z" fill="none" stroke="#372f85" stroke-width="1.6" stroke-linejoin="round" stroke-linecap="round" />
<ellipse cx="253.599" cy="528" rx="13.9199" ry="10.0799" transform="rotate(5 253.599 528)" fill="#9a83d1" stroke="#5b3d97" stroke-width="1.4" />
<ellipse cx="290.799" cy="520.8" rx="11.2799" ry="12.4799" transform="rotate(-20 290.799 520.8)" fill="#9a83d1" stroke="#5b3d97" stroke-width="1.4" />
<ellipse cx="326.079" cy="540" rx="11.5199" ry="12.7199" transform="rotate(-30 326.079 540)" fill="#9a83d1" stroke="#5b3d97" stroke-width="1.4" />
<ellipse cx="232.719" cy="561.119" rx="16.7999" ry="10.0799" transform="rotate(5 232.719 561.119)" fill="#9a83d1" stroke="#5b3d97" stroke-width="1.4" />
<ellipse cx="291.999" cy="555.599" rx="13.6799" ry="10.3199" transform="rotate(-5 291.999 555.599)" fill="#9a83d1" stroke="#5b3d97" stroke-width="1.4" />
<g transform="rotate(0 -2.5 554.3)">
<ellipse cx="-2.5" cy="554.3" rx="39.8" ry="19.6" fill="#c1e5f8" stroke="#1f7fa9" stroke-width="1.6" />
<ellipse cx="-2.5" cy="554.6" rx="13.2" ry="6" fill="#237b9c" stroke="#155f80" stroke-width="1" />
</g>
<g transform="rotate(6 77.5 558)">
<ellipse cx="77.5" cy="558" rx="39.8" ry="19.6" fill="#c1e5f8" stroke="#1f7fa9" stroke-width="1.6" />
<ellipse cx="77.5" cy="558.3" rx="13.2" ry="6" fill="#237b9c" stroke="#155f80" stroke-width="1" />
</g>
<ellipse cx="900.6" cy="552.4" rx="39.8" ry="18.8" fill="#c1e5f8" stroke="#1f7fa9" stroke-width="1.6" />
<ellipse cx="900.6" cy="552.4" rx="13.4" ry="5.8" fill="#237b9c" stroke="#155f80" stroke-width="1" />
<ellipse cx="980.3" cy="552.8" rx="39.8" ry="18.8" fill="#c1e5f8" stroke="#1f7fa9" stroke-width="1.6" />
<ellipse cx="980.3" cy="552.8" rx="13.4" ry="5.8" fill="#237b9c" stroke="#155f80" stroke-width="1" />
<clipPath id="c7"><path d="M844.0,48.3 C847.2,47.9 854.3,47.7 858.7,47.3 C863.1,46.9 866.5,46.3 870.4,45.8 C874.3,45.4 878.7,44.3 882.2,44.4 C885.6,44.4 888.5,44.9 891.0,46.1 C893.4,47.4 895.4,49.6 896.8,52.0 C898.3,54.5 898.8,57.6 899.8,60.8 C900.8,64.0 901.2,67.9 902.7,71.1 C904.2,74.3 907.1,77.1 908.6,79.9 C910.1,82.7 911.6,85.5 911.8,88.0 C912.1,90.4 911.6,92.2 910.1,94.6 C908.5,96.9 905.2,99.2 902.7,101.9 C900.3,104.6 897.8,107.8 895.4,110.7 C892.9,113.6 890.7,117.2 888.0,119.5 C885.4,121.8 882.4,123.5 879.2,124.6 C876.1,125.7 872.4,126.2 869.0,126.1 C865.5,126.0 861.9,125.4 858.7,123.9 C855.5,122.4 852.8,119.5 849.9,117.3 C847.0,115.1 844.0,112.5 841.1,110.7 C838.2,108.9 835.0,108.3 832.3,106.3 C829.6,104.3 826.7,101.4 824.9,99.0 C823.2,96.5 822.1,94.1 822.0,91.6 C821.9,89.2 823.0,87.0 824.2,84.3 C825.4,81.6 827.9,78.7 829.3,75.5 C830.8,72.3 831.9,68.6 833.0,65.2 C834.1,61.8 834.8,57.5 836.0,54.9 C837.1,52.4 838.3,50.9 839.6,49.8 C841.0,48.7 840.8,48.8 844.0,48.3Z" fill="none" stroke="none" stroke-width="0" stroke-linejoin="round" stroke-linecap="round" /></clipPath>
<path d="M844.0,48.3 C847.2,47.9 854.3,47.7 858.7,47.3 C863.1,46.9 866.5,46.3 870.4,45.8 C874.3,45.4 878.7,44.3 882.2,44.4 C885.6,44.4 888.5,44.9 891.0,46.1 C893.4,47.4 895.4,49.6 896.8,52.0 C898.3,54.5 898.8,57.6 899.8,60.8 C900.8,64.0 901.2,67.9 902.7,71.1 C904.2,74.3 907.1,77.1 908.6,79.9 C910.1,82.7 911.6,85.5 911.8,88.0 C912.1,90.4 911.6,92.2 910.1,94.6 C908.5,96.9 905.2,99.2 902.7,101.9 C900.3,104.6 897.8,107.8 895.4,110.7 C892.9,113.6 890.7,117.2 888.0,119.5 C885.4,121.8 882.4,123.5 879.2,124.6 C876.1,125.7 872.4,126.2 869.0,126.1 C865.5,126.0 861.9,125.4 858.7,123.9 C855.5,122.4 852.8,119.5 849.9,117.3 C847.0,115.1 844.0,112.5 841.1,110.7 C838.2,108.9 835.0,108.3 832.3,106.3 C829.6,104.3 826.7,101.4 824.9,99.0 C823.2,96.5 822.1,94.1 822.0,91.6 C821.9,89.2 823.0,87.0 824.2,84.3 C825.4,81.6 827.9,78.7 829.3,75.5 C830.8,72.3 831.9,68.6 833.0,65.2 C834.1,61.8 834.8,57.5 836.0,54.9 C837.1,52.4 838.3,50.9 839.6,49.8 C841.0,48.7 840.8,48.8 844.0,48.3Z" fill="#a6d3e9" stroke="none" stroke-width="0" stroke-linejoin="round" stroke-linecap="round" />
<g clip-path="url(#c7)">
<path d="M819.1,91.6 C819.1,87.5 825.2,80.6 827.9,74.0 C830.6,67.4 832.5,56.9 835.2,52.0 C837.9,47.1 838.9,46.0 844.0,44.7 C849.2,43.3 860.4,43.8 866.0,43.9 C871.7,44.1 874.3,43.3 877.8,45.4 C881.2,47.5 884.9,52.9 886.6,56.4 C888.3,60.0 888.4,62.8 888.0,66.7 C887.7,70.6 885.7,75.0 884.4,79.9 C883.0,84.8 881.8,91.8 880.0,96.0 C878.1,100.3 876.9,103.7 873.4,105.6 C869.8,107.4 864.1,107.4 858.7,107.0 C853.3,106.7 846.2,104.7 841.1,103.4 C836.0,102.0 831.5,100.9 827.9,99.0 C824.2,97.0 819.1,95.8 819.1,91.6Z" fill="#c1e5f8" stroke="none" stroke-width="0" stroke-linejoin="round" stroke-linecap="round" />
<ellipse cx="855.026" cy="75.4879" rx="14.6735" ry="18.3419" transform="rotate(35 855.026 75.4879)" fill="#e3f5fd" stroke="none" stroke-width="0" />
</g>
<path d="M844.0,48.3 C847.2,47.9 854.3,47.7 858.7,47.3 C863.1,46.9 866.5,46.3 870.4,45.8 C874.3,45.4 878.7,44.3 882.2,44.4 C885.6,44.4 888.5,44.9 891.0,46.1 C893.4,47.4 895.4,49.6 896.8,52.0 C898.3,54.5 898.8,57.6 899.8,60.8 C900.8,64.0 901.2,67.9 902.7,71.1 C904.2,74.3 907.1,77.1 908.6,79.9 C910.1,82.7 911.6,85.5 911.8,88.0 C912.1,90.4 911.6,92.2 910.1,94.6 C908.5,96.9 905.2,99.2 902.7,101.9 C900.3,104.6 897.8,107.8 895.4,110.7 C892.9,113.6 890.7,117.2 888.0,119.5 C885.4,121.8 882.4,123.5 879.2,124.6 C876.1,125.7 872.4,126.2 869.0,126.1 C865.5,126.0 861.9,125.4 858.7,123.9 C855.5,122.4 852.8,119.5 849.9,117.3 C847.0,115.1 844.0,112.5 841.1,110.7 C838.2,108.9 835.0,108.3 832.3,106.3 C829.6,104.3 826.7,101.4 824.9,99.0 C823.2,96.5 822.1,94.1 822.0,91.6 C821.9,89.2 823.0,87.0 824.2,84.3 C825.4,81.6 827.9,78.7 829.3,75.5 C830.8,72.3 831.9,68.6 833.0,65.2 C834.1,61.8 834.8,57.5 836.0,54.9 C837.1,52.4 838.3,50.9 839.6,49.8 C841.0,48.7 840.8,48.8 844.0,48.3Z" fill="none" stroke="#1f7fa9" stroke-width="1.6" stroke-linejoin="round" stroke-linecap="round" />
<ellipse cx="866.8" cy="81.7" rx="17.2" ry="13.6" fill="#237b9c" stroke="#155f80" stroke-width="1.4" />
<clipPath id="c8"><path d="M691.1,192.7 a54,42.4 0 1 0 108,0 a54,42.4 0 1 0 -108,0Z" fill="none" stroke="none" stroke-width="0" stroke-linejoin="round" stroke-linecap="round" /></clipPath>
<path d="M691.1,192.7 a54,42.4 0 1 0 108,0 a54,42.4 0 1 0 -108,0Z" fill="#c1e5f8" stroke="none" stroke-width="0" stroke-linejoin="round" stroke-linecap="round" />
<g clip-path="url(#c8)">
<path d="M771.0,164.2 C773.5,162.3 782.3,171.7 785.6,176.7 C789.0,181.7 791.1,188.7 791.1,194.3 C791.1,199.9 789.0,205.8 785.6,210.4 C782.3,215.1 776.8,219.2 771.0,222.2 C765.1,225.1 757.5,227.7 750.4,228.0 C743.3,228.4 729.2,225.8 728.4,224.4 C727.7,222.9 740.4,222.3 746.0,219.2 C751.7,216.2 758.1,211.2 762.2,206.0 C766.2,200.9 768.8,195.4 770.2,188.4 C771.7,181.5 768.4,166.2 771.0,164.2Z" fill="#a6d3e9" stroke="none" stroke-width="0" stroke-linejoin="round" stroke-linecap="round" />
<ellipse cx="731.651" cy="180.352" rx="27.5862" ry="16.4343" transform="rotate(-8 731.651 180.352)" fill="#e3f5fd" stroke="none" stroke-width="0" />
</g>
<path d="M691.1,192.7 a54,42.4 0 1 0 108,0 a54,42.4 0 1 0 -108,0Z" fill="none" stroke="#1f7fa9" stroke-width="1.6" stroke-linejoin="round" stroke-linecap="round" />
<ellipse cx="735.3" cy="192.8" rx="17.2" ry="13.9" fill="#237b9c" stroke="#155f80" stroke-width="1.4" />
<clipPath id="c9"><path d="M690.0,302.9 C696.5,303.2 707.0,303.7 714.0,306.5 C721.0,309.4 727.5,314.3 732.0,320.0 C736.5,325.8 739.1,333.5 741.0,341.0 C742.9,348.5 743.7,357.5 743.4,365.0 C743.2,372.5 741.9,380.5 739.5,386.0 C737.1,391.5 733.8,395.0 729.0,398.0 C724.3,401.0 717.5,402.8 711.0,404.0 C704.5,405.3 697.5,405.8 690.0,405.5 C682.5,405.3 672.5,404.5 666.0,402.5 C659.5,400.5 654.7,397.8 651.0,393.5 C647.4,389.3 645.5,383.3 644.1,377.0 C642.8,370.8 642.3,363.5 642.9,356.0 C643.6,348.5 645.2,339.0 648.0,332.0 C650.9,325.0 655.5,318.5 660.0,314.0 C664.5,309.5 670.0,306.9 675.0,305.0 C680.0,303.2 683.5,302.7 690.0,302.9Z" fill="none" stroke="none" stroke-width="0" stroke-linejoin="round" stroke-linecap="round" /></clipPath>
<path d="M690.0,302.9 C696.5,303.2 707.0,303.7 714.0,306.5 C721.0,309.4 727.5,314.3 732.0,320.0 C736.5,325.8 739.1,333.5 741.0,341.0 C742.9,348.5 743.7,357.5 743.4,365.0 C743.2,372.5 741.9,380.5 739.5,386.0 C737.1,391.5 733.8,395.0 729.0,398.0 C724.3,401.0 717.5,402.8 711.0,404.0 C704.5,405.3 697.5,405.8 690.0,405.5 C682.5,405.3 672.5,404.5 666.0,402.5 C659.5,400.5 654.7,397.8 651.0,393.5 C647.4,389.3 645.5,383.3 644.1,377.0 C642.8,370.8 642.3,363.5 642.9,356.0 C643.6,348.5 645.2,339.0 648.0,332.0 C650.9,325.0 655.5,318.5 660.0,314.0 C664.5,309.5 670.0,306.9 675.0,305.0 C680.0,303.2 683.5,302.7 690.0,302.9Z" fill="#c1e5f8" stroke="none" stroke-width="0" stroke-linejoin="round" stroke-linecap="round" />
<g clip-path="url(#c9)">
<path d="M712.5,317.0 C714.5,317.5 728.0,335.5 732.0,344.0 C736.0,352.5 737.5,360.5 736.5,368.0 C735.5,375.5 732.3,384.3 726.0,389.0 C719.8,393.8 707.8,395.8 699.0,396.5 C690.3,397.3 673.0,395.3 673.5,393.5 C674.0,391.8 694.8,390.8 702.0,386.0 C709.3,381.3 714.0,372.5 717.0,365.0 C720.0,357.5 720.8,349.0 720.0,341.0 C719.3,333.0 710.5,316.5 712.5,317.0Z" fill="#a6d3e9" stroke="none" stroke-width="0" stroke-linejoin="round" stroke-linecap="round" />
<ellipse cx="679.501" cy="338.001" rx="18.6002" ry="26.4003" transform="rotate(20 679.501 338.001)" fill="#e3f5fd" stroke="none" stroke-width="0" />
</g>
<path d="M690.0,302.9 C696.5,303.2 707.0,303.7 714.0,306.5 C721.0,309.4 727.5,314.3 732.0,320.0 C736.5,325.8 739.1,333.5 741.0,341.0 C742.9,348.5 743.7,357.5 743.4,365.0 C743.2,372.5 741.9,380.5 739.5,386.0 C737.1,391.5 733.8,395.0 729.0,398.0 C724.3,401.0 717.5,402.8 711.0,404.0 C704.5,405.3 697.5,405.8 690.0,405.5 C682.5,405.3 672.5,404.5 666.0,402.5 C659.5,400.5 654.7,397.8 651.0,393.5 C647.4,389.3 645.5,383.3 644.1,377.0 C642.8,370.8 642.3,363.5 642.9,356.0 C643.6,348.5 645.2,339.0 648.0,332.0 C650.9,325.0 655.5,318.5 660.0,314.0 C664.5,309.5 670.0,306.9 675.0,305.0 C680.0,303.2 683.5,302.7 690.0,302.9Z" fill="none" stroke="#1f7fa9" stroke-width="1.6" stroke-linejoin="round" stroke-linecap="round" />
<ellipse cx="693" cy="353.9" rx="17" ry="13.8" fill="#237b9c" stroke="#155f80" stroke-width="1.4" />
<clipPath id="c10"><path d="M604.6,487.9 C610.4,488.0 617.0,488.4 622.2,489.8 C627.3,491.2 631.7,493.4 635.4,496.4 C639.0,499.5 642.0,503.5 644.2,508.2 C646.3,512.8 647.5,519.2 648.3,524.3 C649.1,529.4 649.1,534.1 648.9,539.0 C648.7,543.9 648.4,549.5 647.1,553.6 C645.8,557.8 644.4,561.2 641.2,563.9 C638.1,566.6 634.4,568.4 628.0,569.8 C621.7,571.1 610.9,571.7 603.1,572.0 C595.3,572.2 587.4,572.1 581.1,571.2 C574.7,570.4 569.3,569.0 564.9,566.8 C560.5,564.6 557.2,561.7 554.7,558.0 C552.1,554.4 550.5,549.2 549.5,544.8 C548.6,540.4 548.4,536.3 548.8,531.6 C549.2,527.0 550.0,521.6 551.7,517.0 C553.5,512.3 555.9,507.5 559.1,503.7 C562.3,500.0 566.2,496.7 570.8,494.2 C575.5,491.8 581.3,490.1 587.0,489.1 C592.6,488.0 598.7,487.8 604.6,487.9Z" fill="none" stroke="none" stroke-width="0" stroke-linejoin="round" stroke-linecap="round" /></clipPath>
<path d="M604.6,487.9 C610.4,488.0 617.0,488.4 622.2,489.8 C627.3,491.2 631.7,493.4 635.4,496.4 C639.0,499.5 642.0,503.5 644.2,508.2 C646.3,512.8 647.5,519.2 648.3,524.3 C649.1,529.4 649.1,534.1 648.9,539.0 C648.7,543.9 648.4,549.5 647.1,553.6 C645.8,557.8 644.4,561.2 641.2,563.9 C638.1,566.6 634.4,568.4 628.0,569.8 C621.7,571.1 610.9,571.7 603.1,572.0 C595.3,572.2 587.4,572.1 581.1,571.2 C574.7,570.4 569.3,569.0 564.9,566.8 C560.5,564.6 557.2,561.7 554.7,558.0 C552.1,554.4 550.5,549.2 549.5,544.8 C548.6,540.4 548.4,536.3 548.8,531.6 C549.2,527.0 550.0,521.6 551.7,517.0 C553.5,512.3 555.9,507.5 559.1,503.7 C562.3,500.0 566.2,496.7 570.8,494.2 C575.5,491.8 581.3,490.1 587.0,489.1 C592.6,488.0 598.7,487.8 604.6,487.9Z" fill="#c1e5f8" stroke="none" stroke-width="0" stroke-linejoin="round" stroke-linecap="round" />
<g clip-path="url(#c10)">
<path d="M623.6,497.1 C625.3,496.9 632.4,504.8 635.4,509.6 C638.3,514.4 640.1,520.1 641.2,525.8 C642.3,531.4 642.5,538.2 642.0,543.4 C641.5,548.5 640.6,553.3 638.3,556.6 C636.0,559.9 633.7,561.8 628.0,563.2 C622.4,564.5 612.4,564.5 604.6,564.6 C596.7,564.8 581.3,565.0 581.1,563.9 C580.8,562.8 597.0,561.0 603.1,558.0 C609.2,555.1 614.1,551.2 617.8,546.3 C621.4,541.4 623.8,534.6 625.1,528.7 C626.4,522.8 625.6,516.3 625.4,511.1 C625.2,505.8 622.0,497.4 623.6,497.1Z" fill="#a6d3e9" stroke="none" stroke-width="0" stroke-linejoin="round" stroke-linecap="round" />
<ellipse cx="587.689" cy="524.292" rx="27.146" ry="23.4776" transform="rotate(-25 587.689 524.292)" fill="#e3f5fd" stroke="none" stroke-width="0" />
</g>
<path d="M604.6,487.9 C610.4,488.0 617.0,488.4 622.2,489.8 C627.3,491.2 631.7,493.4 635.4,496.4 C639.0,499.5 642.0,503.5 644.2,508.2 C646.3,512.8 647.5,519.2 648.3,524.3 C649.1,529.4 649.1,534.1 648.9,539.0 C648.7,543.9 648.4,549.5 647.1,553.6 C645.8,557.8 644.4,561.2 641.2,563.9 C638.1,566.6 634.4,568.4 628.0,569.8 C621.7,571.1 610.9,571.7 603.1,572.0 C595.3,572.2 587.4,572.1 581.1,571.2 C574.7,570.4 569.3,569.0 564.9,566.8 C560.5,564.6 557.2,561.7 554.7,558.0 C552.1,554.4 550.5,549.2 549.5,544.8 C548.6,540.4 548.4,536.3 548.8,531.6 C549.2,527.0 550.0,521.6 551.7,517.0 C553.5,512.3 555.9,507.5 559.1,503.7 C562.3,500.0 566.2,496.7 570.8,494.2 C575.5,491.8 581.3,490.1 587.0,489.1 C592.6,488.0 598.7,487.8 604.6,487.9Z" fill="none" stroke="#1f7fa9" stroke-width="1.5" stroke-linejoin="round" stroke-linecap="round" />
<ellipse cx="598.254" cy="530.455" rx="17.3" ry="14.2" fill="#237b9c" stroke="#155f80" stroke-width="1.4" />
<clipPath id="c11"><path d="M698.7,480.0 C704.1,480.0 710.9,480.5 716.3,481.7 C721.7,483.0 726.6,484.9 731.0,487.6 C735.4,490.3 739.7,494.0 742.7,497.9 C745.8,501.8 747.6,506.4 749.3,511.1 C751.0,515.7 752.3,521.1 753.0,525.8 C753.7,530.4 753.8,534.6 753.7,539.0 C753.6,543.4 753.6,548.3 752.3,552.2 C750.9,556.1 748.7,560.0 745.6,562.4 C742.6,564.9 741.0,565.9 733.9,566.8 C726.8,567.8 713.9,568.0 703.1,568.0 C692.3,568.0 676.9,567.8 669.3,566.8 C661.8,565.9 660.7,564.9 657.6,562.4 C654.6,560.0 652.4,556.1 651.0,552.2 C649.7,548.3 649.7,543.4 649.5,539.0 C649.4,534.6 649.5,530.4 650.3,525.8 C651.0,521.1 652.2,515.7 653.9,511.1 C655.7,506.4 657.7,501.8 660.5,497.9 C663.4,494.0 666.9,490.3 670.8,487.6 C674.7,484.9 679.4,483.0 684.0,481.7 C688.7,480.5 693.3,480.0 698.7,480.0Z" fill="none" stroke="none" stroke-width="0" stroke-linejoin="round" stroke-linecap="round" /></clipPath>
<path d="M698.7,480.0 C704.1,480.0 710.9,480.5 716.3,481.7 C721.7,483.0 726.6,484.9 731.0,487.6 C735.4,490.3 739.7,494.0 742.7,497.9 C745.8,501.8 747.6,506.4 749.3,511.1 C751.0,515.7 752.3,521.1 753.0,525.8 C753.7,530.4 753.8,534.6 753.7,539.0 C753.6,543.4 753.6,548.3 752.3,552.2 C750.9,556.1 748.7,560.0 745.6,562.4 C742.6,564.9 741.0,565.9 733.9,566.8 C726.8,567.8 713.9,568.0 703.1,568.0 C692.3,568.0 676.9,567.8 669.3,566.8 C661.8,565.9 660.7,564.9 657.6,562.4 C654.6,560.0 652.4,556.1 651.0,552.2 C649.7,548.3 649.7,543.4 649.5,539.0 C649.4,534.6 649.5,530.4 650.3,525.8 C651.0,521.1 652.2,515.7 653.9,511.1 C655.7,506.4 657.7,501.8 660.5,497.9 C663.4,494.0 666.9,490.3 670.8,487.6 C674.7,484.9 679.4,483.0 684.0,481.7 C688.7,480.5 693.3,480.0 698.7,480.0Z" fill="#c1e5f8" stroke="none" stroke-width="0" stroke-linejoin="round" stroke-linecap="round" />
<g clip-path="url(#c11)">
<path d="M731.0,495.7 C732.9,496.4 739.9,507.8 742.7,514.0 C745.5,520.3 747.0,527.7 747.9,533.1 C748.7,538.5 748.7,542.1 747.9,546.3 C747.0,550.5 745.5,555.5 742.7,558.0 C739.9,560.6 737.1,560.9 731.0,561.7 C724.9,562.5 714.3,562.7 706.0,562.7 C697.7,562.7 681.1,562.7 681.1,561.7 C681.1,560.7 699.2,559.6 706.0,556.6 C712.9,553.5 718.3,548.5 722.2,543.4 C726.1,538.2 728.0,531.4 729.5,525.8 C731.0,520.1 731.0,514.6 731.3,509.6 C731.5,504.6 729.1,494.9 731.0,495.7Z" fill="#a6d3e9" stroke="none" stroke-width="0" stroke-linejoin="round" stroke-linecap="round" />
<ellipse cx="683.727" cy="515.488" rx="23.4776" ry="22.0103" transform="rotate(-35 683.727 515.488)" fill="#e3f5fd" stroke="none" stroke-width="0" />
</g>
<path d="M698.7,480.0 C704.1,480.0 710.9,480.5 716.3,481.7 C721.7,483.0 726.6,484.9 731.0,487.6 C735.4,490.3 739.7,494.0 742.7,497.9 C745.8,501.8 747.6,506.4 749.3,511.1 C751.0,515.7 752.3,521.1 753.0,525.8 C753.7,530.4 753.8,534.6 753.7,539.0 C753.6,543.4 753.6,548.3 752.3,552.2 C750.9,556.1 748.7,560.0 745.6,562.4 C742.6,564.9 741.0,565.9 733.9,566.8 C726.8,567.8 713.9,568.0 703.1,568.0 C692.3,568.0 676.9,567.8 669.3,566.8 C661.8,565.9 660.7,564.9 657.6,562.4 C654.6,560.0 652.4,556.1 651.0,552.2 C649.7,548.3 649.7,543.4 649.5,539.0 C649.4,534.6 649.5,530.4 650.3,525.8 C651.0,521.1 652.2,515.7 653.9,511.1 C655.7,506.4 657.7,501.8 660.5,497.9 C663.4,494.0 666.9,490.3 670.8,487.6 C674.7,484.9 679.4,483.0 684.0,481.7 C688.7,480.5 693.3,480.0 698.7,480.0Z" fill="none" stroke="#1f7fa9" stroke-width="1.5" stroke-linejoin="round" stroke-linecap="round" />
<ellipse cx="700.895" cy="525.759" rx="17.3" ry="14.2" fill="#237b9c" stroke="#155f80" stroke-width="1.4" />
<clipPath id="c12"><path d="M803.7,479.1 C807.9,479.2 813.7,479.2 818.4,480.3 C823.0,481.3 827.4,483.1 831.6,485.4 C835.7,487.7 839.9,490.7 843.3,494.2 C846.7,497.8 849.7,502.2 852.1,506.7 C854.6,511.2 856.5,516.5 858.0,521.4 C859.5,526.2 860.4,531.6 860.9,536.0 C861.4,540.4 861.5,544.1 860.9,547.8 C860.3,551.4 859.5,555.1 857.3,558.0 C855.1,561.0 852.2,563.6 847.7,565.4 C843.2,567.1 837.4,568.0 830.1,568.6 C822.8,569.2 812.3,569.1 803.7,569.0 C795.1,569.0 785.4,569.0 778.7,568.3 C772.1,567.6 767.7,566.6 764.1,564.6 C760.4,562.7 758.4,560.1 756.7,556.6 C755.1,553.0 754.5,548.0 754.1,543.4 C753.7,538.7 753.8,533.6 754.1,528.7 C754.4,523.8 754.8,518.7 756.0,514.0 C757.2,509.4 758.8,504.8 761.1,500.8 C763.5,496.8 766.3,492.9 769.9,489.8 C773.6,486.8 779.2,484.1 783.2,482.5 C787.1,480.8 790.0,480.4 793.4,479.8 C796.8,479.3 799.5,479.0 803.7,479.1Z" fill="none" stroke="none" stroke-width="0" stroke-linejoin="round" stroke-linecap="round" /></clipPath>
<path d="M803.7,479.1 C807.9,479.2 813.7,479.2 818.4,480.3 C823.0,481.3 827.4,483.1 831.6,485.4 C835.7,487.7 839.9,490.7 843.3,494.2 C846.7,497.8 849.7,502.2 852.1,506.7 C854.6,511.2 856.5,516.5 858.0,521.4 C859.5,526.2 860.4,531.6 860.9,536.0 C861.4,540.4 861.5,544.1 860.9,547.8 C860.3,551.4 859.5,555.1 857.3,558.0 C855.1,561.0 852.2,563.6 847.7,565.4 C843.2,567.1 837.4,568.0 830.1,568.6 C822.8,569.2 812.3,569.1 803.7,569.0 C795.1,569.0 785.4,569.0 778.7,568.3 C772.1,567.6 767.7,566.6 764.1,564.6 C760.4,562.7 758.4,560.1 756.7,556.6 C755.1,553.0 754.5,548.0 754.1,543.4 C753.7,538.7 753.8,533.6 754.1,528.7 C754.4,523.8 754.8,518.7 756.0,514.0 C757.2,509.4 758.8,504.8 761.1,500.8 C763.5,496.8 766.3,492.9 769.9,489.8 C773.6,486.8 779.2,484.1 783.2,482.5 C787.1,480.8 790.0,480.4 793.4,479.8 C796.8,479.3 799.5,479.0 803.7,479.1Z" fill="#c1e5f8" stroke="none" stroke-width="0" stroke-linejoin="round" stroke-linecap="round" />
<g clip-path="url(#c12)">
<path d="M840.4,498.6 C841.9,498.9 848.2,508.5 850.6,514.0 C853.1,519.5 854.4,526.2 855.1,531.6 C855.7,537.0 855.5,541.9 854.3,546.3 C853.1,550.7 851.3,555.4 847.7,558.0 C844.2,560.7 838.7,561.6 833.0,562.4 C827.4,563.3 820.1,563.3 814.0,563.2 C807.9,563.1 796.1,562.8 796.4,561.7 C796.6,560.6 809.8,559.4 815.4,556.6 C821.1,553.8 826.2,549.5 830.1,544.8 C834.0,540.2 837.0,534.1 838.9,528.7 C840.8,523.3 841.2,517.6 841.4,512.6 C841.6,507.5 838.8,498.4 840.4,498.6Z" fill="#a6d3e9" stroke="none" stroke-width="0" stroke-linejoin="round" stroke-linecap="round" />
<ellipse cx="795.624" cy="514.021" rx="28.6134" ry="22.7439" transform="rotate(-30 795.624 514.021)" fill="#e3f5fd" stroke="none" stroke-width="0" />
</g>
<path d="M803.7,479.1 C807.9,479.2 813.7,479.2 818.4,480.3 C823.0,481.3 827.4,483.1 831.6,485.4 C835.7,487.7 839.9,490.7 843.3,494.2 C846.7,497.8 849.7,502.2 852.1,506.7 C854.6,511.2 856.5,516.5 858.0,521.4 C859.5,526.2 860.4,531.6 860.9,536.0 C861.4,540.4 861.5,544.1 860.9,547.8 C860.3,551.4 859.5,555.1 857.3,558.0 C855.1,561.0 852.2,563.6 847.7,565.4 C843.2,567.1 837.4,568.0 830.1,568.6 C822.8,569.2 812.3,569.1 803.7,569.0 C795.1,569.0 785.4,569.0 778.7,568.3 C772.1,567.6 767.7,566.6 764.1,564.6 C760.4,562.7 758.4,560.1 756.7,556.6 C755.1,553.0 754.5,548.0 754.1,543.4 C753.7,538.7 753.8,533.6 754.1,528.7 C754.4,523.8 754.8,518.7 756.0,514.0 C757.2,509.4 758.8,504.8 761.1,500.8 C763.5,496.8 766.3,492.9 769.9,489.8 C773.6,486.8 779.2,484.1 783.2,482.5 C787.1,480.8 790.0,480.4 793.4,479.8 C796.8,479.3 799.5,479.0 803.7,479.1Z" fill="none" stroke="#1f7fa9" stroke-width="1.5" stroke-linejoin="round" stroke-linecap="round" />
<ellipse cx="808.39" cy="524.732" rx="17.6" ry="14.2" fill="#237b9c" stroke="#155f80" stroke-width="1.4" />
<path d="M170.2,110.2 Q200,120 224,139.5" fill="none" stroke="#111" stroke-width="2.2" stroke-linejoin="round" stroke-linecap="round" />
<path d="M206.3,138.9 L224.3,139.8 L217.2,123.3" fill="none" stroke="#111" stroke-width="2.2" stroke-linejoin="miter" stroke-miterlimit="10" stroke-linecap="round"/>
<path d="M313,243 Q320,264 322,284" fill="none" stroke="#111" stroke-width="2.2" stroke-linejoin="round" stroke-linecap="round" />
<path d="M311.0,272.4 L322.3,285.0 L328.7,269.3" fill="none" stroke="#111" stroke-width="2.2" stroke-linejoin="miter" stroke-miterlimit="10" stroke-linecap="round"/>
<path d="M311,436 L298,478" fill="none" stroke="#111" stroke-width="2.2" stroke-linejoin="round" stroke-linecap="round" />
<path d="M293.4,462.1 L297.8,478.5 L310.6,467.4" fill="none" stroke="#111" stroke-width="2.2" stroke-linejoin="miter" stroke-miterlimit="10" stroke-linecap="round"/>
<path d="M820.4,111.9 L784.5,149.8" fill="none" stroke="#111" stroke-width="2.2" stroke-linejoin="round" stroke-linecap="round" />
<path d="M787.6,133.5 L784.2,150.2 L800.6,145.9" fill="none" stroke="#111" stroke-width="2.2" stroke-linejoin="miter" stroke-miterlimit="10" stroke-linecap="round"/>
<path d="M727.5,243.5 L710,293" fill="none" stroke="#111" stroke-width="2.2" stroke-linejoin="round" stroke-linecap="round" />
<path d="M706.2,277.0 L709.8,293.6 L723.1,283.0" fill="none" stroke="#111" stroke-width="2.2" stroke-linejoin="miter" stroke-miterlimit="10" stroke-linecap="round"/>
<path d="M693.8,418.8 L692.8,467.5" fill="none" stroke="#111" stroke-width="2.2" stroke-linejoin="round" stroke-linecap="round" />
<path d="M684.1,453.2 L692.8,467.8 L702.1,453.5" fill="none" stroke="#111" stroke-width="2.2" stroke-linejoin="miter" stroke-miterlimit="10" stroke-linecap="round"/>
<path d="M692.8,578 Q668,612 664.5,651" fill="none" stroke="#111" stroke-width="2.2" stroke-linejoin="round" stroke-linecap="round" />
<path d="M656.8,637.2 L664.5,652.3 L674.7,638.7" fill="none" stroke="#111" stroke-width="2.2" stroke-linejoin="miter" stroke-miterlimit="10" stroke-linecap="round"/>
<path d="M809.2,578.7 Q852,607 899.4,585.6" fill="none" stroke="#111" stroke-width="2.2" stroke-linejoin="round" stroke-linecap="round" />
<path d="M891.3,600.4 L899.5,585.5 L882.5,584.6" fill="none" stroke="#111" stroke-width="2.2" stroke-linejoin="miter" stroke-miterlimit="10" stroke-linecap="round"/>
<path d="M927.3,501.2 L927.3,530" fill="none" stroke="#333" stroke-width="1.2" stroke-linejoin="round" stroke-linecap="round" />
<path d="M775,658.5 L775,687.6" fill="none" stroke="#333" stroke-width="1.2" stroke-linejoin="round" stroke-linecap="round" />
<g font-weight="bold" font-size="21.5" fill="#ffffff" fill-opacity="0.19" stroke="#7a7a7a" stroke-opacity="0.04" stroke-width="2.6" paint-order="stroke" stroke-linejoin="round">
<text transform="translate(-119 18) rotate(-42.5)" textLength="158" lengthAdjust="spacingAndGlyphs">Adobe Stock</text>
<text transform="translate(11 61) rotate(-42.5)" textLength="158" lengthAdjust="spacingAndGlyphs">Adobe Stock</text>
<text transform="translate(-110 340) rotate(-42.5)" textLength="158" lengthAdjust="spacingAndGlyphs">Adobe Stock</text>
<text transform="translate(20 383) rotate(-42.5)" textLength="158" lengthAdjust="spacingAndGlyphs">Adobe Stock</text>
<text transform="translate(53 182) rotate(-42.5)" textLength="158" lengthAdjust="spacingAndGlyphs">Adobe Stock</text>
<text transform="translate(183 225) rotate(-42.5)" textLength="158" lengthAdjust="spacingAndGlyphs">Adobe Stock</text>
<text transform="translate(216 24) rotate(-42.5)" textLength="158" lengthAdjust="spacingAndGlyphs">Adobe Stock</text>
<text transform="translate(346 67) rotate(-42.5)" textLength="158" lengthAdjust="spacingAndGlyphs">Adobe Stock</text>
<text transform="translate(-101 662) rotate(-42.5)" textLength="158" lengthAdjust="spacingAndGlyphs">Adobe Stock</text>
<text transform="translate(29 705) rotate(-42.5)" textLength="158" lengthAdjust="spacingAndGlyphs">Adobe Stock</text>
<text transform="translate(62 504) rotate(-42.5)" textLength="158" lengthAdjust="spacingAndGlyphs">Adobe Stock</text>
<text transform="translate(192 547) rotate(-42.5)" textLength="158" lengthAdjust="spacingAndGlyphs">Adobe Stock</text>
<text transform="translate(225 346) rotate(-42.5)" textLength="158" lengthAdjust="spacingAndGlyphs">Adobe Stock</text>
<text transform="translate(355 389) rotate(-42.5)" textLength="158" lengthAdjust="spacingAndGlyphs">Adobe Stock</text>
<text transform="translate(388 188) rotate(-42.5)" textLength="158" lengthAdjust="spacingAndGlyphs">Adobe Stock</text>
<text transform="translate(518 231) rotate(-42.5)" textLength="158" lengthAdjust="spacingAndGlyphs">Adobe Stock</text>
<text transform="translate(551 30) rotate(-42.5)" textLength="158" lengthAdjust="spacingAndGlyphs">Adobe Stock</text>
<text transform="translate(681 73) rotate(-42.5)" textLength="158" lengthAdjust="spacingAndGlyphs">Adobe Stock</text>
<text transform="translate(71 826) rotate(-42.5)" textLength="158" lengthAdjust="spacingAndGlyphs">Adobe Stock</text>
<text transform="translate(234 668) rotate(-42.5)" textLength="158" lengthAdjust="spacingAndGlyphs">Adobe Stock</text>
<text transform="translate(364 711) rotate(-42.5)" textLength="158" lengthAdjust="spacingAndGlyphs">Adobe Stock</text>
<text transform="translate(397 510) rotate(-42.5)" textLength="158" lengthAdjust="spacingAndGlyphs">Adobe Stock</text>
<text transform="translate(527 553) rotate(-42.5)" textLength="158" lengthAdjust="spacingAndGlyphs">Adobe Stock</text>
<text transform="translate(560 352) rotate(-42.5)" textLength="158" lengthAdjust="spacingAndGlyphs">Adobe Stock</text>
<text transform="translate(690 395) rotate(-42.5)" textLength="158" lengthAdjust="spacingAndGlyphs">Adobe Stock</text>
<text transform="translate(723 194) rotate(-42.5)" textLength="158" lengthAdjust="spacingAndGlyphs">Adobe Stock</text>
<text transform="translate(853 237) rotate(-42.5)" textLength="158" lengthAdjust="spacingAndGlyphs">Adobe Stock</text>
<text transform="translate(886 36) rotate(-42.5)" textLength="158" lengthAdjust="spacingAndGlyphs">Adobe Stock</text>
<text transform="translate(406 832) rotate(-42.5)" textLength="158" lengthAdjust="spacingAndGlyphs">Adobe Stock</text>
<text transform="translate(569 674) rotate(-42.5)" textLength="158" lengthAdjust="spacingAndGlyphs">Adobe Stock</text>
<text transform="translate(699 717) rotate(-42.5)" textLength="158" lengthAdjust="spacingAndGlyphs">Adobe Stock</text>
<text transform="translate(732 516) rotate(-42.5)" textLength="158" lengthAdjust="spacingAndGlyphs">Adobe Stock</text>
<text transform="translate(862 559) rotate(-42.5)" textLength="158" lengthAdjust="spacingAndGlyphs">Adobe Stock</text>
<text transform="translate(895 358) rotate(-42.5)" textLength="158" lengthAdjust="spacingAndGlyphs">Adobe Stock</text>
<text transform="translate(741 838) rotate(-42.5)" textLength="158" lengthAdjust="spacingAndGlyphs">Adobe Stock</text>
<text transform="translate(904 680) rotate(-42.5)" textLength="158" lengthAdjust="spacingAndGlyphs">Adobe Stock</text>
</g>
<text x="154.4" y="68" textLength="30.6" lengthAdjust="spacingAndGlyphs" font-size="17.7" fill="#101010" font-weight="normal" stroke="#ffffff" stroke-width="0.3">HSC</text>
<text x="78.4" y="176" textLength="104" lengthAdjust="spacingAndGlyphs" font-size="17.7" fill="#e6474f" font-weight="normal" stroke="#ffffff" stroke-width="0.3">Differentiation</text>
<text x="351.3" y="125.6" textLength="77.5" lengthAdjust="spacingAndGlyphs" font-size="17.7" fill="#101010" font-weight="normal" stroke="#ffffff" stroke-width="0.3">Osteoclast</text>
<text x="339.9" y="145.9" textLength="99.8" lengthAdjust="spacingAndGlyphs" font-size="17.7" fill="#101010" font-weight="normal" stroke="#ffffff" stroke-width="0.3">precursor cell</text>
<text x="225.5" y="280.6" textLength="47.8" lengthAdjust="spacingAndGlyphs" font-size="17.7" fill="#e6474f" font-weight="normal" stroke="#ffffff" stroke-width="0.3">Fusion</text>
<text x="402.3" y="298.8" textLength="109" lengthAdjust="spacingAndGlyphs" font-size="17.7" fill="#101010" font-weight="normal" stroke="#ffffff" stroke-width="0.3">Multinucleated</text>
<text x="420.2" y="318" textLength="73.6" lengthAdjust="spacingAndGlyphs" font-size="17.7" fill="#101010" font-weight="normal" stroke="#ffffff" stroke-width="0.3">osteoclast</text>
<text x="190.1" y="457.4" textLength="72.8" lengthAdjust="spacingAndGlyphs" font-size="17.7" fill="#e6474f" font-weight="normal" stroke="#ffffff" stroke-width="0.3">Activation</text>
<text x="350.6" y="495.5" textLength="116.3" lengthAdjust="spacingAndGlyphs" font-size="17.7" fill="#101010" font-weight="normal" stroke="#ffffff" stroke-width="0.3">Bone-resorbing</text>
<text x="371.7" y="514.2" textLength="73.4" lengthAdjust="spacingAndGlyphs" font-size="17.7" fill="#101010" font-weight="normal" stroke="#ffffff" stroke-width="0.3">osteoclast</text>
<text x="774.9" y="68.5" textLength="33.8" lengthAdjust="spacingAndGlyphs" font-size="17.7" fill="#101010" font-weight="normal" stroke="#ffffff" stroke-width="0.3">MSC</text>
<text x="817.5" y="184" textLength="125" lengthAdjust="spacingAndGlyphs" font-size="17.7" fill="#101010" font-weight="normal" stroke="#ffffff" stroke-width="0.3">Osteoprogenitor</text>
<text x="867.5" y="202.5" textLength="25" lengthAdjust="spacingAndGlyphs" font-size="17.7" fill="#101010" font-weight="normal" stroke="#ffffff" stroke-width="0.3">cell</text>
<text x="762.6" y="316.4" textLength="106.5" lengthAdjust="spacingAndGlyphs" font-size="17.7" fill="#101010" font-weight="normal" stroke="#ffffff" stroke-width="0.3">Pre-osteoblast</text>
<text x="717.3" y="457.3" textLength="134" lengthAdjust="spacingAndGlyphs" font-size="17.7" fill="#101010" font-weight="normal" stroke="#ffffff" stroke-width="0.3">Mature osteoblast</text>
<text x="886" y="471.7" textLength="82.3" lengthAdjust="spacingAndGlyphs" font-size="17.7" fill="#101010" font-weight="normal" stroke="#ffffff" stroke-width="0.3">Bone lining</text>
<text x="915.5" y="491.6" textLength="23.3" lengthAdjust="spacingAndGlyphs" font-size="17.7" fill="#101010" font-weight="normal" stroke="#ffffff" stroke-width="0.3">cell</text>
<text x="738.4" y="702.6" textLength="75" lengthAdjust="spacingAndGlyphs" font-size="17.7" fill="#101010" font-weight="normal" stroke="#fdedd0" stroke-width="0.3">Osteocyte</text>
<text transform="translate(30 734.3) rotate(-90)" textLength="220.3" lengthAdjust="spacingAndGlyphs" font-size="19.5" font-weight="bold" fill="#3d3d3d" stroke="#ffffff" stroke-opacity="0.45" stroke-width="1.6" paint-order="stroke">Adobe Stock | #877019924</text>
</svg>
</body></html>
